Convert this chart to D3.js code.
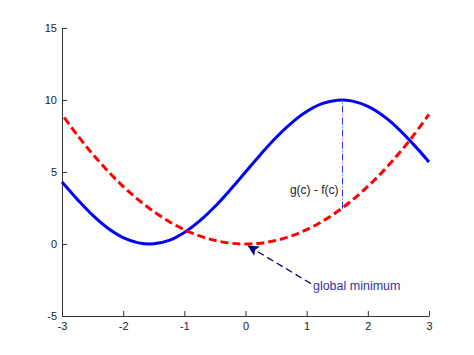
<!DOCTYPE html>
<html>
<head>
<meta charset="utf-8">
<script src="https://cdn.jsdelivr.net/npm/d3@7"></script>
<style>
  body { margin: 0; background: #fff; }
  text { font-family: "Liberation Sans", Arial, sans-serif; }
</style>
</head>
<body>
<div id="chart"></div>
<script>
// values
var xs = [-3, -2.75, -2.5, -2.25, -2, -1.75, -1.5, -1.25, -1, -0.75, -0.5, -0.25, 0,
          0.25, 0.5, 0.75, 1, 1.25, 1.5, 1.75, 2, 2.25, 2.5, 2.75, 3];
var gVals = [4.3, 3.1, 2.0, 1.1, 0.45, 0.08, 0.01, 0.25, 0.8, 1.6, 2.6, 3.76, 5.0,
             6.24, 7.4, 8.4, 9.2, 9.75, 9.99, 9.92, 9.55, 8.9, 8.0, 6.9, 5.7];
var fVals = [9.0, 7.56, 6.25, 5.06, 4.0, 3.06, 2.25, 1.56, 1.0, 0.56, 0.25, 0.06, 0,
             0.06, 0.25, 0.56, 1.0, 1.56, 2.25, 3.06, 4.0, 5.06, 6.25, 7.56, 9.0];
var xTicks = [-3, -2, -1, 0, 1, 2, 3];
var yTicks = [-5, 0, 5, 10, 15];

// the gap marker at c
var cX = 1.57, cLow = 2.46, cHigh = 10;
var gapLabel = "g(c) - f(c)";

// arrow annotation
var arrowFrom = [1.07, -2.75], arrowTo = [0.05, -0.15];
var minLabel = "global minimum";

var margin = {top: 28, right: 45, bottom: 39, left: 62},
    width = 474 - margin.left - margin.right,
    height = 355 - margin.top - margin.bottom;

var svg = d3.select("#chart")
    .append("svg")
    .attr("width", 474)
    .attr("height", 355)
    .append("g")
    .attr("transform", "translate(" + margin.left + "," + margin.top + ")");

var x = d3.scaleLinear().domain([-3, 3]).range([0, width]);
var y = d3.scaleLinear().domain([-5, 15]).range([height, 0]);

svg.append("defs").append("marker")
    .attr("id", "head")
    .attr("viewBox", "0 0 10 10")
    .attr("refX", 9).attr("refY", 5)
    .attr("markerWidth", 11).attr("markerHeight", 11)
    .attr("markerUnits", "userSpaceOnUse")
    .attr("orient", "auto")
    .append("path")
    .attr("d", "M0,0 L10,5 L0,10 L2,5 Z")
    .attr("fill", "#000080");

var fmt = function (d) { return String(d); };

// axes (inward ticks, no box)
var xAxis = svg.append("g")
    .attr("transform", "translate(0," + height + ")")
    .call(d3.axisBottom(x).tickValues(xTicks).tickFormat(fmt)
        .tickSizeInner(-5).tickSizeOuter(0).tickPadding(6));
var yAxis = svg.append("g")
    .call(d3.axisLeft(y).tickValues(yTicks).tickFormat(fmt)
        .tickSizeInner(-5).tickSizeOuter(0).tickPadding(5));
[xAxis, yAxis].forEach(function (a) {
    a.select(".domain").attr("stroke", "#333");
    a.selectAll(".tick line").attr("stroke", "#333");
    a.selectAll(".tick text").attr("fill", "#222").style("font-size", "11px");
});

var pts = function (vals) { return xs.map(function (d, i) { return [d, vals[i]]; }); };
var line = d3.line()
    .x(function (d) { return x(d[0]); })
    .y(function (d) { return y(d[1]); })
    .curve(d3.curveCatmullRom);

svg.append("path")
    .datum(pts(gVals))
    .attr("d", line)
    .attr("fill", "none")
    .attr("stroke", "#0000ff")
    .attr("stroke-width", 3);

svg.append("path")
    .datum(pts(fVals))
    .attr("d", line)
    .attr("fill", "none")
    .attr("stroke", "#ff0000")
    .attr("stroke-width", 3)
    .attr("stroke-dasharray", "8,4")
    .attr("stroke-dashoffset", -4);

var cPx = Math.round(x(cX)) + 0.5;
svg.append("line")
    .attr("x1", cPx).attr("x2", cPx)
    .attr("y1", y(cLow)).attr("y2", y(cHigh))
    .attr("stroke", "#3333ff")
    .attr("stroke-width", 1)
    .attr("stroke-dasharray", "7,2,1,2");

svg.append("text")
    .attr("x", x(cX) - 3)
    .attr("y", y(cLow) - 15)
    .attr("text-anchor", "end")
    .attr("fill", "#222")
    .style("font-size", "12px")
    .text(gapLabel);

svg.append("line")
    .attr("x1", x(arrowFrom[0])).attr("y1", y(arrowFrom[1]))
    .attr("x2", x(arrowTo[0])).attr("y2", y(arrowTo[1]))
    .attr("stroke", "#000080")
    .attr("stroke-width", 1.3)
    .attr("stroke-dasharray", "7,4")
    .attr("marker-end", "url(#head)");

svg.append("text")
    .attr("x", x(arrowFrom[0]) + 2)
    .attr("y", y(arrowFrom[1]) + 6)
    .attr("fill", "#33339a")
    .style("font-size", "12.5px")
    .text(minLabel);
</script>
</body>
</html>
